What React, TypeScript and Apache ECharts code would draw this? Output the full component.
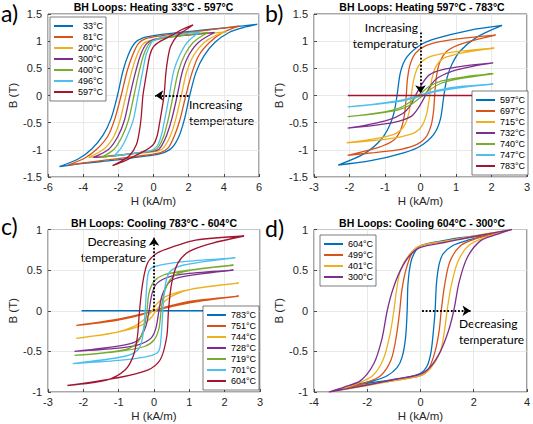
import React, { useEffect, useRef } from "react";
import * as echarts from "echarts";

const COLORS = ["#0072BD", "#D95319", "#EDB120", "#7E2F8E", "#77AC30", "#4DBEEE", "#A2142F"];

// ---------- Panel a: Heating 33°C - 597°C ----------
const tempsA = ["33°C", "81°C", "200°C", "300°C", "400°C", "496°C", "597°C"];
const a33Down = [[5.9,1.31],[4.5,1.26],[3,1.21],[1.5,1.16],[0,1.1],[-0.6,1.06],[-1.05,0.97],[-1.42,0.76],[-1.73,0.46],[-2.05,0],[-2.42,-0.43],[-2.87,-0.73],[-3.5,-0.98],[-4.24,-1.16],[-5.35,-1.31]];
const a33Up = [[-5.35,-1.31],[-4,-1.25],[-2.2,-1.19],[-0.8,-1.13],[0.4,-1.07],[1.05,-0.96],[1.45,-0.75],[1.75,-0.45],[2.06,0],[2.42,0.43],[2.87,0.73],[3.5,0.98],[4.3,1.16],[5.1,1.25],[5.9,1.31]];
const a81Down = [[4.88,1.28],[3.5,1.22],[2,1.16],[0.5,1.1],[-0.4,1.05],[-0.85,0.96],[-1.18,0.75],[-1.5,0.45],[-1.84,0],[-2.2,-0.43],[-2.6,-0.75],[-3.2,-0.98],[-3.9,-1.15],[-4.87,-1.28]];
const a81Up = [[-4.87,-1.28],[-3.5,-1.22],[-2,-1.16],[-0.5,-1.1],[0.4,-1.05],[0.85,-0.96],[1.18,-0.75],[1.5,-0.45],[1.84,0],[2.2,0.43],[2.6,0.75],[3.2,0.98],[3.9,1.15],[4.88,1.28]];
const a200Down = [[4.15,1.17],[3,1.14],[1.5,1.1],[0.2,1.04],[-0.55,0.96],[-0.93,0.75],[-1.25,0.43],[-1.57,0],[-1.9,-0.45],[-2.25,-0.75],[-2.8,-0.98],[-3.69,-1.14]];
const a200Up = [[-3.69,-1.14],[-2.5,-1.11],[-1,-1.07],[0.3,-1.02],[0.6,-0.95],[0.95,-0.75],[1.27,-0.43],[1.58,0],[1.9,0.45],[2.3,0.75],[2.9,0.98],[3.5,1.1],[4.15,1.17]];
const a300Down = [[3.48,1.16],[2.5,1.13],[1.2,1.09],[0,1.03],[-0.4,0.95],[-0.73,0.75],[-1.03,0.42],[-1.34,0],[-1.65,-0.45],[-2.02,-0.75],[-2.55,-0.99],[-3.42,-1.14]];
const a300Up = [[-3.42,-1.14],[-2.3,-1.11],[-1,-1.06],[0.2,-1.01],[0.45,-0.93],[0.75,-0.73],[1.05,-0.42],[1.35,0],[1.65,0.45],[2.02,0.75],[2.6,0.99],[3.48,1.16]];
const a400Down = [[3.1,1.16],[2,1.12],[0.8,1.07],[-0.1,1.0],[-0.3,0.93],[-0.56,0.75],[-0.83,0.42],[-1.11,0],[-1.42,-0.45],[-1.78,-0.75],[-2.25,-0.99],[-2.96,-1.14]];
const a400Up = [[-2.96,-1.14],[-2,-1.1],[-0.8,-1.05],[0.1,-1.0],[0.32,-0.93],[0.58,-0.75],[0.85,-0.42],[1.12,0],[1.42,0.45],[1.78,0.75],[2.3,0.99],[3.1,1.16]];
const a496Down = [[2.63,1.17],[1.6,1.13],[0.5,1.07],[-0.05,1.0],[-0.2,0.92],[-0.42,0.75],[-0.63,0.42],[-0.88,0],[-1.15,-0.45],[-1.5,-0.75],[-1.85,-0.97],[-2.24,-1.11]];
const a496Up = [[-2.24,-1.11],[-1.2,-1.07],[-0.2,-1.02],[0.2,-0.93],[0.43,-0.75],[0.65,-0.42],[0.9,0],[1.15,0.45],[1.5,0.75],[1.95,0.99],[2.63,1.17]];
const a597Down = [[2.25,1.3],[1.6,1.21],[1.0,1.1],[0.4,1.0],[0,0.9],[-0.2,0.75],[-0.35,0.5],[-0.48,0.25],[-0.6,0],[-0.7,-0.4],[-0.8,-0.65],[-0.97,-0.9],[-1.35,-1.1],[-1.8,-1.2],[-2.33,-1.29]];
const a597Up = [[-2.33,-1.29],[-1.6,-1.2],[-1.0,-1.1],[-0.4,-1.0],[0,-0.9],[0.2,-0.75],[0.35,-0.5],[0.48,-0.25],[0.6,0],[0.7,0.4],[0.8,0.65],[0.97,0.9],[1.35,1.1],[1.8,1.2],[2.25,1.3]];

// ---------- Panel b: Heating 597°C - 783°C ----------
const tempsB = ["597°C", "697°C", "715°C", "732°C", "740°C", "747°C", "783°C"];
const b597Down = [[2.3,1.29],[1.38,1.2],[0.45,1.05],[0,0.93],[-0.38,0.71],[-0.56,0.44],[-0.66,0],[-0.75,-0.33],[-0.89,-0.58],[-1.12,-0.82],[-1.58,-1.07],[-2.32,-1.28]];
const b597Up = [[-2.32,-1.28],[-1.4,-1.2],[-0.45,-1.05],[0,-0.93],[0.38,-0.71],[0.56,-0.44],[0.66,0],[0.75,0.33],[0.89,0.58],[1.12,0.82],[1.58,1.07],[2.3,1.29]];
const b697Down = [[2.12,1.11],[1.3,1.06],[0.55,0.99],[0.1,0.9],[-0.15,0.77],[-0.3,0.55],[-0.37,0.28],[-0.4,0],[-0.45,-0.35],[-0.55,-0.62],[-0.75,-0.82],[-1.2,-0.96],[-2.05,-1.1]];
const b697Up = [[-2.05,-1.1],[-1.3,-1.05],[-0.55,-0.99],[-0.1,-0.9],[0.15,-0.77],[0.3,-0.55],[0.37,-0.28],[0.4,0],[0.45,0.35],[0.55,0.62],[0.75,0.82],[1.2,0.96],[2.12,1.11]];
const b715Down = [[2.08,0.87],[1.2,0.82],[0.55,0.76],[0.15,0.68],[-0.05,0.55],[-0.18,0.32],[-0.26,0],[-0.32,-0.3],[-0.45,-0.55],[-0.7,-0.7],[-1.3,-0.8],[-2.08,-0.87]];
const b715Up = [[-2.08,-0.87],[-1.2,-0.82],[-0.55,-0.76],[-0.15,-0.68],[0.05,-0.55],[0.18,-0.32],[0.26,0],[0.32,0.3],[0.45,0.55],[0.7,0.7],[1.3,0.8],[2.08,0.87]];
const b732Down = [[2.05,0.6],[1.2,0.54],[0.6,0.47],[0.25,0.38],[0.05,0.22],[-0.14,0],[-0.3,-0.2],[-0.5,-0.33],[-0.9,-0.45],[-1.5,-0.54],[-2.05,-0.6]];
const b732Up = [[-2.05,-0.6],[-1.2,-0.54],[-0.6,-0.47],[-0.25,-0.38],[-0.05,-0.22],[0.14,0],[0.3,0.2],[0.5,0.33],[0.9,0.45],[1.5,0.54],[2.05,0.6]];
const b740Down = [[2.05,0.4],[1.2,0.34],[0.6,0.27],[0.25,0.17],[0.05,0.06],[-0.07,0],[-0.25,-0.1],[-0.6,-0.23],[-1.2,-0.32],[-2.05,-0.39]];
const b740Up = [[-2.05,-0.39],[-1.2,-0.33],[-0.6,-0.26],[-0.25,-0.16],[-0.05,-0.06],[0.07,0],[0.25,0.1],[0.6,0.23],[1.2,0.32],[2.05,0.4]];
const b747Down = [[2.05,0.21],[1.2,0.17],[0.5,0.1],[0.1,0.03],[-0.03,0],[-0.5,-0.08],[-1.2,-0.15],[-2.05,-0.21]];
const b747Up = [[-2.05,-0.21],[-1.2,-0.16],[-0.5,-0.1],[-0.1,-0.03],[0.03,0],[0.5,0.08],[1.2,0.15],[2.05,0.21]];
const b783Line = [[-2.05,0],[2.05,0]];

// ---------- Panel c: Cooling 783°C - 604°C ----------
const tempsC = ["783°C", "751°C", "744°C", "728°C", "719°C", "701°C", "604°C"];
const c783Line = [[-2.05,0],[2.2,0]];
const c751Down = [[2.4,0.18],[1.18,0.11],[0.27,0.03],[0,0],[-0.36,-0.05],[-1.09,-0.12],[-2.2,-0.18]];
const c751Up = [[-2.2,-0.18],[-1.1,-0.11],[-0.3,-0.035],[0,0],[0.36,0.05],[1.1,0.12],[2.4,0.18]];
const c744Down = [[2.4,0.34],[1,0.26],[0.36,0.18],[0.09,0.09],[-0.05,0],[-0.23,-0.09],[-0.55,-0.19],[-1.09,-0.27],[-2.2,-0.34]];
const c744Up = [[-2.2,-0.34],[-1,-0.26],[-0.36,-0.18],[-0.09,-0.09],[0.05,0],[0.23,0.09],[0.55,0.19],[1.09,0.27],[2.4,0.34]];
const c728Down = [[2.25,0.5],[1,0.46],[0.45,0.42],[0.09,0.34],[-0.05,0.22],[-0.14,0],[-0.23,-0.19],[-0.45,-0.36],[-0.82,-0.42],[-2.25,-0.5]];
const c728Up = [[-2.25,-0.5],[-1,-0.46],[-0.45,-0.42],[-0.09,-0.34],[0.05,-0.22],[0.14,0],[0.23,0.19],[0.45,0.36],[0.82,0.42],[2.25,0.5]];
const c719Down = [[2.25,0.56],[1,0.5],[0.27,0.44],[0,0.36],[-0.14,0.22],[-0.2,0],[-0.27,-0.19],[-0.45,-0.38],[-0.82,-0.48],[-2.25,-0.55]];
const c719Up = [[-2.25,-0.55],[-1,-0.5],[-0.27,-0.44],[0,-0.36],[0.14,-0.22],[0.2,0],[0.27,0.19],[0.45,0.38],[0.82,0.48],[2.25,0.56]];
const c701Down = [[2.3,0.65],[1,0.61],[0.27,0.57],[-0.09,0.52],[-0.18,0.42],[-0.25,0],[-0.32,-0.32],[-0.45,-0.48],[-0.82,-0.56],[-2.3,-0.65]];
const c701Up = [[-2.3,-0.65],[-1,-0.61],[-0.27,-0.57],[0.09,-0.52],[0.18,-0.42],[0.25,0],[0.32,0.32],[0.45,0.48],[0.82,0.56],[2.3,0.65]];
const c604Down = [[2.55,0.92],[1.18,0.87],[0.55,0.79],[0.09,0.71],[-0.18,0.59],[-0.32,0.34],[-0.41,0],[-0.47,-0.32],[-0.59,-0.56],[-0.82,-0.73],[-1.32,-0.85],[-2.45,-0.92]];
const c604Up = [[-2.45,-0.92],[-1.09,-0.83],[-0.18,-0.73],[0.18,-0.6],[0.36,-0.32],[0.41,0],[0.5,0.34],[0.68,0.59],[1.0,0.73],[1.64,0.83],[2.55,0.92]];

// ---------- Panel d: Cooling 604°C - 300°C ----------
const tempsD = ["604°C", "499°C", "401°C", "300°C"];
const d604Down = [[2.55,0.93],[1.5,0.9],[0.8,0.86],[0,0.8],[-0.25,0.7],[-0.38,0.57],[-0.47,0.33],[-0.5,0],[-0.56,-0.33],[-0.69,-0.57],[-0.88,-0.7],[-1.25,-0.8],[-1.75,-0.86],[-2.64,-0.92]];
const d604Up = [[-2.64,-0.92],[-1.5,-0.87],[-0.5,-0.82],[0,-0.77],[0.25,-0.68],[0.4,-0.5],[0.5,-0.2],[0.55,0],[0.6,0.33],[0.7,0.57],[0.85,0.7],[1.2,0.8],[1.7,0.86],[2.55,0.93]];
const d499Down = [[3.07,0.97],[2,0.91],[1,0.86],[0,0.8],[-0.3,0.72],[-0.55,0.5],[-0.7,0.25],[-0.78,0],[-0.9,-0.3],[-1.1,-0.6],[-1.5,-0.8],[-2.1,-0.89],[-3.1,-0.97]];
const d499Up = [[-3.1,-0.97],[-2,-0.91],[-1,-0.86],[0,-0.8],[0.3,-0.72],[0.55,-0.5],[0.7,-0.25],[0.78,0],[0.9,0.3],[1.1,0.6],[1.5,0.8],[2.1,0.89],[3.07,0.97]];
const d401Down = [[3.3,0.99],[2,0.92],[1,0.86],[0,0.8],[-0.4,0.7],[-0.75,0.5],[-0.9,0.25],[-1.0,0],[-1.15,-0.3],[-1.4,-0.6],[-1.8,-0.8],[-2.4,-0.9],[-3.3,-0.99]];
const d401Up = [[-3.3,-0.99],[-2,-0.92],[-1,-0.86],[0,-0.8],[0.4,-0.7],[0.75,-0.5],[0.9,-0.25],[1.0,0],[1.15,0.3],[1.4,0.6],[1.8,0.8],[2.4,0.9],[3.3,0.99]];
const d300Down = [[3.44,1.0],[2.1,0.92],[0.9,0.84],[0,0.78],[-0.4,0.68],[-0.75,0.5],[-1.05,0.25],[-1.25,0],[-1.45,-0.35],[-1.75,-0.65],[-2.25,-0.86],[-2.87,-0.94],[-3.44,-1.0]];
const d300Up = [[-3.44,-1.0],[-2.1,-0.92],[-0.9,-0.84],[0,-0.78],[0.4,-0.68],[0.75,-0.5],[1.05,-0.25],[1.25,0],[1.45,0.35],[1.75,0.65],[2.25,0.86],[2.87,0.94],[3.44,1.0]];

// Loops per panel (each: list of branches joined in drawing order)
const loopsA = [[a33Down, a33Up], [a81Down, a81Up], [a200Down, a200Up], [a300Down, a300Up], [a400Down, a400Up], [a496Down, a496Up], [a597Down, a597Up]];
const loopsB = [[b597Down, b597Up], [b697Down, b697Up], [b715Down, b715Up], [b732Down, b732Up], [b740Down, b740Up], [b747Down, b747Up], [b783Line]];
const loopsC = [[c783Line], [c751Down, c751Up], [c744Down, c744Up], [c728Down, c728Up], [c719Down, c719Up], [c701Down, c701Up], [c604Down, c604Up]];
const loopsD = [[d604Down, d604Up], [d499Down, d499Up], [d401Down, d401Up], [d300Down, d300Up]];

// Axis ranges [min, max, interval]
const xRangeA = [-6, 6, 2];
const yRangeA = [-1.5, 1.5, 0.5];
const xRangeB = [-3, 3, 1];
const yRangeB = [-1.5, 1.5, 0.5];
const xRangeC = [-3, 3, 1];
const yRangeC = [-1, 1, 0.5];
const xRangeD = [-4, 4, 2];
const yRangeD = [-1, 1, 0.5];

const titles = [
  "BH Loops: Heating 33°C - 597°C",
  "BH Loops: Heating 597°C - 783°C",
  "BH Loops: Cooling 783°C - 604°C",
  "BH Loops: Cooling 604°C - 300°C",
];

// Arrow annotations [from, to] in data units
const arrowA = [[2.0, 0], [0.1, 0]];
const arrowB = [[0, 1.16], [0, 0.04]];
const arrowC = [[0, 0], [0, 0.9]];
const arrowD = [[0.06, 0], [1.88, 0]];

const FONT = "Liberation Sans";

export default function App() {
  const ref = useRef<HTMLDivElement>(null);
  useEffect(() => {
    if (!ref.current) return;
    const chart = echarts.init(ref.current, null, { renderer: "svg" });

    const panels = [
      { key: "a", temps: tempsA, loops: loopsA, x: xRangeA, y: yRangeA, arrow: arrowA,
        grid: { left: 48, top: 14, width: 211, height: 163 },
        legend: { left: 50, top: 17 } },
      { key: "b", temps: tempsB, loops: loopsB, x: xRangeB, y: yRangeB, arrow: arrowB,
        grid: { left: 314, top: 14, width: 216, height: 163 },
        legend: { left: 472, top: 91 } },
      { key: "c", temps: tempsC, loops: loopsC, x: xRangeC, y: yRangeC, arrow: arrowC,
        grid: { left: 48, top: 229.5, width: 212, height: 162.5 },
        legend: { left: 203, top: 306 } },
      { key: "d", temps: tempsD, loops: loopsD, x: xRangeD, y: yRangeD, arrow: arrowD,
        grid: { left: 314, top: 229.5, width: 216, height: 162.5 },
        legend: { left: 320, top: 235 } },
    ];

    const grid: any[] = [];
    const xAxis: any[] = [];
    const yAxis: any[] = [];
    const series: any[] = [];
    const legend: any[] = [];
    const title: any[] = [];

    panels.forEach((p, gi) => {
      grid.push({ ...p.grid, show: true, borderColor: "#262626", borderWidth: 0.8, backgroundColor: "#fff" });
      xAxis.push({
        type: "value", gridIndex: gi, min: p.x[0], max: p.x[1], interval: p.x[2],
        name: "H (kA/m)", nameLocation: "middle", nameGap: 18,
        nameTextStyle: { fontSize: 11.5, color: "#262626", fontFamily: FONT },
        axisLine: { show: false, onZero: false },
        axisTick: { show: true, inside: true, length: 3, lineStyle: { color: "#262626", width: 0.8 } },
        axisLabel: { fontSize: 11, color: "#262626", margin: 4, fontFamily: FONT },
        splitLine: { show: true, lineStyle: { color: "#e3e3e3", width: 0.8 } },
      });
      yAxis.push({
        type: "value", gridIndex: gi, min: p.y[0], max: p.y[1], interval: p.y[2],
        name: "B (T)", nameLocation: "middle", nameGap: 23, nameRotate: 90,
        nameTextStyle: { fontSize: 11.5, color: "#262626", fontFamily: FONT },
        axisLine: { show: false, onZero: false },
        axisTick: { show: true, inside: true, length: 3, lineStyle: { color: "#262626", width: 0.8 } },
        axisLabel: { fontSize: 11, color: "#262626", margin: 6, fontFamily: FONT },
        splitLine: { show: true, lineStyle: { color: "#e3e3e3", width: 0.8 } },
      });
      p.temps.forEach((t, i) => {
        const color = COLORS[i];
        const data = ([] as number[][]).concat(...p.loops[i]);
        const s: any = {
          type: "line", name: `${p.key}|${t}`, xAxisIndex: gi, yAxisIndex: gi,
          data, symbol: "none", showSymbol: false, smooth: 0.3, silent: true,
          lineStyle: { width: 1.3, color }, itemStyle: { color },
          emphasis: { disabled: true },
        };
        if (i === p.temps.length - 1) {
          s.markLine = {
            silent: true, symbol: ["none", "arrow"], symbolSize: 8,
            label: { show: false },
            lineStyle: { type: "dotted", color: "#000", width: 1.8 },
            emphasis: { disabled: true },
            data: [[{ coord: p.arrow[0] }, { coord: p.arrow[1] }]],
          };
        }
        series.push(s);
      });
      legend.push({
        data: p.temps.map((t) => `${p.key}|${t}`),
        formatter: (n: string) => "{r|" + n.split("|")[1] + "}",
        orient: "vertical", left: p.legend.left, top: p.legend.top,
        icon: "rect", itemWidth: 19, itemHeight: 2, itemGap: 1, padding: [4, 3, 4, 4],
        backgroundColor: "#fff", borderColor: "#262626", borderWidth: 0.6, borderRadius: 0,
        selectedMode: false,
        textStyle: {
          fontSize: 9, color: "#000", fontFamily: FONT, lineHeight: 10,
          rich: { r: { width: 25, align: "right", fontSize: 9, lineHeight: 10, fontFamily: FONT, color: "#000" } },
        },
      });
      const g = p.grid;
      title.push({
        text: titles[gi], left: g.left + g.width / 2, top: gi < 2 ? 1 : 217, textAlign: "center",
        padding: 0,
        textStyle: { fontSize: 10.5, fontWeight: "bold", color: "#000", fontFamily: FONT },
      });
    });

    const annFont = "12px Lato";
    const letterFont = "23px Lato";
    const graphic = [
      { type: "text", x: 1, y: 1, style: { text: "a)", font: letterFont, fill: "#000", verticalAlign: "top" } },
      { type: "text", x: 265, y: 1, style: { text: "b)", font: letterFont, fill: "#000", verticalAlign: "top" } },
      { type: "text", x: 1, y: 214, style: { text: "c)", font: letterFont, fill: "#000", verticalAlign: "top" } },
      { type: "text", x: 265, y: 216, style: { text: "d)", font: letterFont, fill: "#000", verticalAlign: "top" } },
      { type: "text", x: 189, y: 96, style: { text: "Increasing\ntemperature", font: annFont, lineHeight: 16, fill: "#000", align: "left", verticalAlign: "top" } },
      { type: "text", x: 418, y: 19, style: { text: "Increasing\ntemperature", font: annFont, lineHeight: 16, fill: "#000", align: "right", verticalAlign: "top" } },
      { type: "text", x: 146, y: 233, style: { text: "Decreasing\ntemperature", font: annFont, lineHeight: 16, fill: "#000", align: "right", verticalAlign: "top" } },
      { type: "text", x: 459, y: 315, style: { text: "Decreasing\ntemperature", font: annFont, lineHeight: 16, fill: "#000", align: "left", verticalAlign: "top" } },
    ];

    chart.setOption({
      animation: false,
      backgroundColor: "#fff",
      textStyle: { fontFamily: FONT },
      title, grid, xAxis, yAxis, series, legend, graphic,
    });
    return () => chart.dispose();
  }, []);
  return <div ref={ref} style={{ position: "absolute", left: 0, top: 0, width: 533, height: 424 }} />;
}
